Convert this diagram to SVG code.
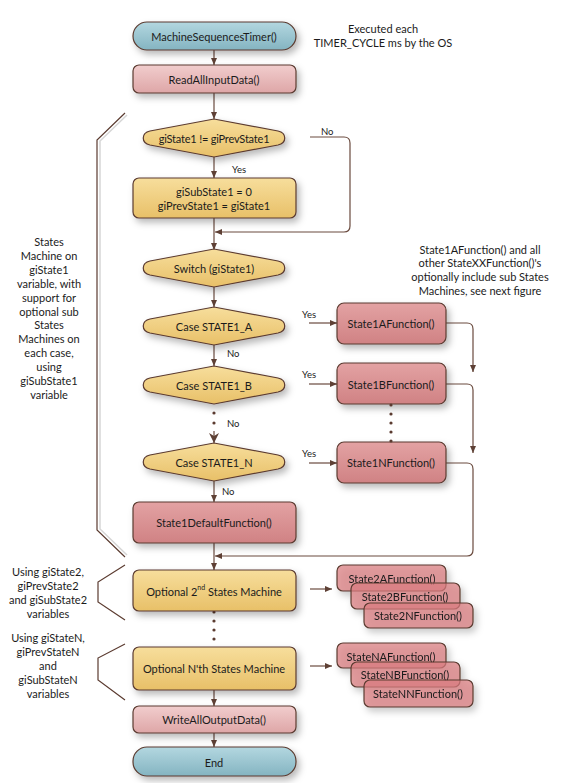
<svg xmlns="http://www.w3.org/2000/svg" width="564" height="783" viewBox="0 0 564 783">
<defs>
<linearGradient id="gBlue" x1="0" y1="0" x2="0" y2="1"><stop offset="0" stop-color="#b3d7e0"/><stop offset="1" stop-color="#84b4c1"/></linearGradient>
<linearGradient id="gPink" x1="0" y1="0" x2="0" y2="1"><stop offset="0" stop-color="#f1cdcd"/><stop offset="1" stop-color="#dea6a7"/></linearGradient>
<linearGradient id="gRed" x1="0" y1="0" x2="0" y2="1"><stop offset="0" stop-color="#e3a2a3"/><stop offset="1" stop-color="#d08284"/></linearGradient>
<linearGradient id="gYel" x1="0" y1="0" x2="0" y2="1"><stop offset="0" stop-color="#f7de9c"/><stop offset="1" stop-color="#e8c068"/></linearGradient>
<filter id="sh" x="-20%" y="-30%" width="150%" height="180%"><feDropShadow dx="3" dy="4" stdDeviation="3.5" flood-color="#000" flood-opacity="0.28"/></filter>
<marker id="ar" markerWidth="7" markerHeight="6" refX="7" refY="3" orient="auto" markerUnits="userSpaceOnUse"><path d="M0,0 L7,3 L0,6 z" fill="#5e4035"/></marker>
<marker id="arB" markerWidth="10" markerHeight="10" refX="10" refY="5" orient="auto" markerUnits="userSpaceOnUse"><path d="M0,0 L10,5 L0,10 L3,5 z" fill="#5e4035"/></marker>
<path id="dia" d="M-64,-7 L0,-19 L64,-7 C73,-5 73,5 64,7 L0,19 L-64,7 C-73,5 -73,-5 -64,-7 Z"/>
</defs>
<style>
.t{font-family:Lato,"Open Sans","Liberation Sans",sans-serif;font-size:11px;fill:#1b1b1b;text-anchor:middle;dominant-baseline:central}
.s{font-family:Lato,"Open Sans","Liberation Sans",sans-serif;font-size:9.5px;fill:#1b1b1b;dominant-baseline:central}
.sk{stroke:#5b3b30;stroke-width:1.2}
.c{fill:none;stroke:#6a4a3e;stroke-width:1.2}
.dot{fill:#5b3b30}
</style>
<rect width="564" height="783" fill="#ffffff"/>

<g id="brackets" fill="none">
<path d="M127,115 L100,141 V529 L127,555" stroke="#d6d6d6" stroke-width="1.5"/>
<path d="M125,113 L97,140 V530 L125,557" stroke="#5b3b30" stroke-width="1.2"/>
<path d="M125,565 L98,582 V602 L125,620" stroke="#5b3b30" stroke-width="1.2"/>
<path d="M125,644 L98,658 V680 L125,700" stroke="#5b3b30" stroke-width="1.2"/>
</g>

<g id="connectors">
<path class="c" d="M214,50 V65" marker-end="url(#ar)"/>
<path class="c" d="M214,93 V119" marker-end="url(#ar)"/>
<path class="c" d="M214,157 V178" marker-end="url(#ar)"/>
<path class="c" d="M214,218 V250" marker-end="url(#ar)"/>
<path class="c" d="M310,137 H344 Q350,137 350,143 V226 Q350,232 344,232 H215" marker-end="url(#ar)"/>
<path class="c" d="M214,287 V307" marker-end="url(#ar)"/>
<path class="c" d="M214,345 V366" marker-end="url(#ar)"/>
<circle class="dot" cx="214" cy="413" r="1.6"/>
<circle class="dot" cx="214" cy="423" r="1.6"/>
<path class="c" d="M214,431 V443" marker-end="url(#arB)"/>
<path class="c" d="M214,481 V502" marker-end="url(#ar)"/>
<path class="c" d="M214,543 V570" marker-end="url(#ar)"/>
<circle class="dot" cx="214" cy="612" r="1.6"/>
<circle class="dot" cx="214" cy="621" r="1.6"/>
<circle class="dot" cx="214" cy="630" r="1.6"/>
<circle class="dot" cx="214" cy="639" r="1.6"/>
<path class="c" d="M214,690 V706" marker-end="url(#ar)"/>
<path class="c" d="M214,733 V747" marker-end="url(#ar)"/>
<path class="c" d="M309,323 H337" marker-end="url(#ar)"/>
<path class="c" d="M309,384 H337" marker-end="url(#ar)"/>
<path class="c" d="M309,463 H337" marker-end="url(#ar)"/>
<path class="c" d="M446,323 H467 Q473,323 473,329 V372" marker-end="url(#ar)"/>
<path class="c" d="M446,384 H467 Q473,384 473,390 V453" marker-end="url(#ar)"/>
<path class="c" d="M446,463 H467 Q473,463 473,469 V550 Q473,556 467,556 H215" marker-end="url(#ar)"/>
<circle class="dot" cx="391" cy="414" r="1.6"/>
<circle class="dot" cx="391" cy="423" r="1.6"/>
<circle class="dot" cx="391" cy="432" r="1.6"/>
<path class="c" d="M310,589 H332" marker-end="url(#ar)"/>
<path class="c" d="M310,666 H332" marker-end="url(#ar)"/>
<text class="s" x="232" y="169">Yes</text>
<text class="s" x="321" y="131">No</text>
<text class="s" x="227" y="353">No</text>
<text class="s" x="227" y="423">No</text>
<text class="s" x="222" y="491">No</text>
<text class="s" x="302" y="314">Yes</text>
<text class="s" x="302" y="374">Yes</text>
<text class="s" x="302" y="453">Yes</text>
</g>

<g id="start"><rect class="sk" x="133" y="22" width="163" height="28" rx="14" fill="url(#gBlue)" filter="url(#sh)"/><text class="t" x="214" y="36">MachineSequencesTimer()</text></g>
<g id="read"><rect class="sk" x="133" y="65" width="163" height="28" rx="6" fill="url(#gPink)" filter="url(#sh)"/><text class="t" x="214" y="79">ReadAllInputData()</text></g>
<g id="cond1"><use href="#dia" x="214" y="138" class="sk" fill="url(#gYel)" filter="url(#sh)"/><text class="t" x="214" y="138" letter-spacing="-0.2">giState1 != giPrevState1</text></g>
<g id="reset"><rect class="sk" x="133" y="178" width="163" height="40" rx="6" fill="url(#gYel)" filter="url(#sh)"/><text class="t" x="214" y="191">giSubState1 = 0</text><text class="t" x="214" y="205">giPrevState1 = giState1</text></g>
<g id="switch"><use href="#dia" x="214" y="268" class="sk" fill="url(#gYel)" filter="url(#sh)"/><text class="t" x="214" y="268">Switch (giState1)</text></g>
<g id="caseA"><use href="#dia" x="214" y="326" class="sk" fill="url(#gYel)" filter="url(#sh)"/><text class="t" x="214" y="326">Case STATE1_A</text></g>
<g id="caseB"><use href="#dia" x="214" y="385" class="sk" fill="url(#gYel)" filter="url(#sh)"/><text class="t" x="214" y="385">Case STATE1_B</text></g>
<g id="caseN"><use href="#dia" x="214" y="462" class="sk" fill="url(#gYel)" filter="url(#sh)"/><text class="t" x="214" y="462">Case STATE1_N</text></g>
<g id="default"><rect class="sk" x="133" y="502" width="163" height="41" rx="6" fill="url(#gRed)" filter="url(#sh)"/><text class="t" x="214" y="522">State1DefaultFunction()</text></g>
<g id="fA"><rect class="sk" x="337" y="303" width="109" height="41" rx="7" fill="url(#gRed)" filter="url(#sh)"/><text class="t" x="391" y="323">State1AFunction()</text></g>
<g id="fB"><rect class="sk" x="337" y="363" width="109" height="41" rx="7" fill="url(#gRed)" filter="url(#sh)"/><text class="t" x="391" y="384">State1BFunction()</text></g>
<g id="fN"><rect class="sk" x="337" y="442" width="109" height="41" rx="7" fill="url(#gRed)" filter="url(#sh)"/><text class="t" x="391" y="462">State1NFunction()</text></g>
<circle class="dot" cx="391" cy="405" r="1.6"/>
<circle class="dot" cx="391" cy="441" r="1.6"/>
<g id="opt2"><rect class="sk" x="133" y="570" width="163" height="41" rx="6" fill="url(#gYel)" filter="url(#sh)"/><text class="t" x="214" y="591">Optional 2<tspan font-size="7" dy="-4">nd</tspan><tspan dy="4"> States Machine</tspan></text></g>
<g id="optN"><rect class="sk" x="133" y="647" width="163" height="43" rx="6" fill="url(#gYel)" filter="url(#sh)"/><text class="t" x="214" y="668">Optional N'th States Machine</text></g>
<g id="write"><rect class="sk" x="133" y="706" width="163" height="27" rx="6" fill="url(#gPink)" filter="url(#sh)"/><text class="t" x="214" y="719">WriteAllOutputData()</text></g>
<g id="end"><rect class="sk" x="133" y="747" width="163" height="29" rx="14" fill="url(#gBlue)" filter="url(#sh)"/><text class="t" x="214" y="762">End</text></g>

<g id="stack2" filter="url(#sh)">
<rect class="sk" x="337" y="565" width="109" height="26" rx="6" fill="#d97b80" fill-opacity="0.72"/><text class="t" x="392" y="578">State2AFunction()</text>
<rect class="sk" x="351" y="583" width="109" height="26" rx="6" fill="#d97b80" fill-opacity="0.72"/><text class="t" x="405" y="596">State2BFunction()</text>
<rect class="sk" x="364" y="603" width="109" height="25" rx="6" fill="#d97b80" fill-opacity="0.72"/><text class="t" x="418" y="615">State2NFunction()</text>
</g>
<g id="stackN" filter="url(#sh)">
<rect class="sk" x="337" y="643" width="109" height="25" rx="6" fill="#d97b80" fill-opacity="0.72"/><text class="t" x="391" y="656">StateNAFunction()</text>
<rect class="sk" x="351" y="662" width="109" height="25" rx="6" fill="#d97b80" fill-opacity="0.72"/><text class="t" x="405" y="674">StateNBFunction()</text>
<rect class="sk" x="364" y="680" width="109" height="27" rx="6" fill="#d97b80" fill-opacity="0.72"/><text class="t" x="418" y="693">StateNNFunction()</text>
</g>

<g id="notes">
<text class="t" x="383" y="28">Executed each</text>
<text class="t" x="383" y="42">TIMER_CYCLE ms by the OS</text>
<text class="t" x="480" y="249">State1AFunction() and all</text>
<text class="t" x="480" y="262">other StateXXFunction()'s</text>
<text class="t" x="480" y="276">optionally include sub States</text>
<text class="t" x="480" y="290">Machines, see next figure</text>
<text class="t" x="49" y="241">States</text>
<text class="t" x="49" y="255">Machine on</text>
<text class="t" x="49" y="269">giState1</text>
<text class="t" x="49" y="283">variable, with</text>
<text class="t" x="49" y="297">support for</text>
<text class="t" x="49" y="311">optional sub</text>
<text class="t" x="49" y="324">States</text>
<text class="t" x="49" y="338">Machines on</text>
<text class="t" x="49" y="352">each case,</text>
<text class="t" x="49" y="366">using</text>
<text class="t" x="49" y="380">giSubState1</text>
<text class="t" x="49" y="394">variable</text>
<text class="t" x="48" y="571">Using giState2,</text>
<text class="t" x="48" y="585">giPrevState2</text>
<text class="t" x="48" y="599">and giSubState2</text>
<text class="t" x="48" y="613">variables</text>
<text class="t" x="48" y="637">Using giStateN,</text>
<text class="t" x="48" y="651">giPrevStateN</text>
<text class="t" x="48" y="665">and</text>
<text class="t" x="48" y="679">giSubStateN</text>
<text class="t" x="48" y="693">variables</text>
</g>
</svg>
